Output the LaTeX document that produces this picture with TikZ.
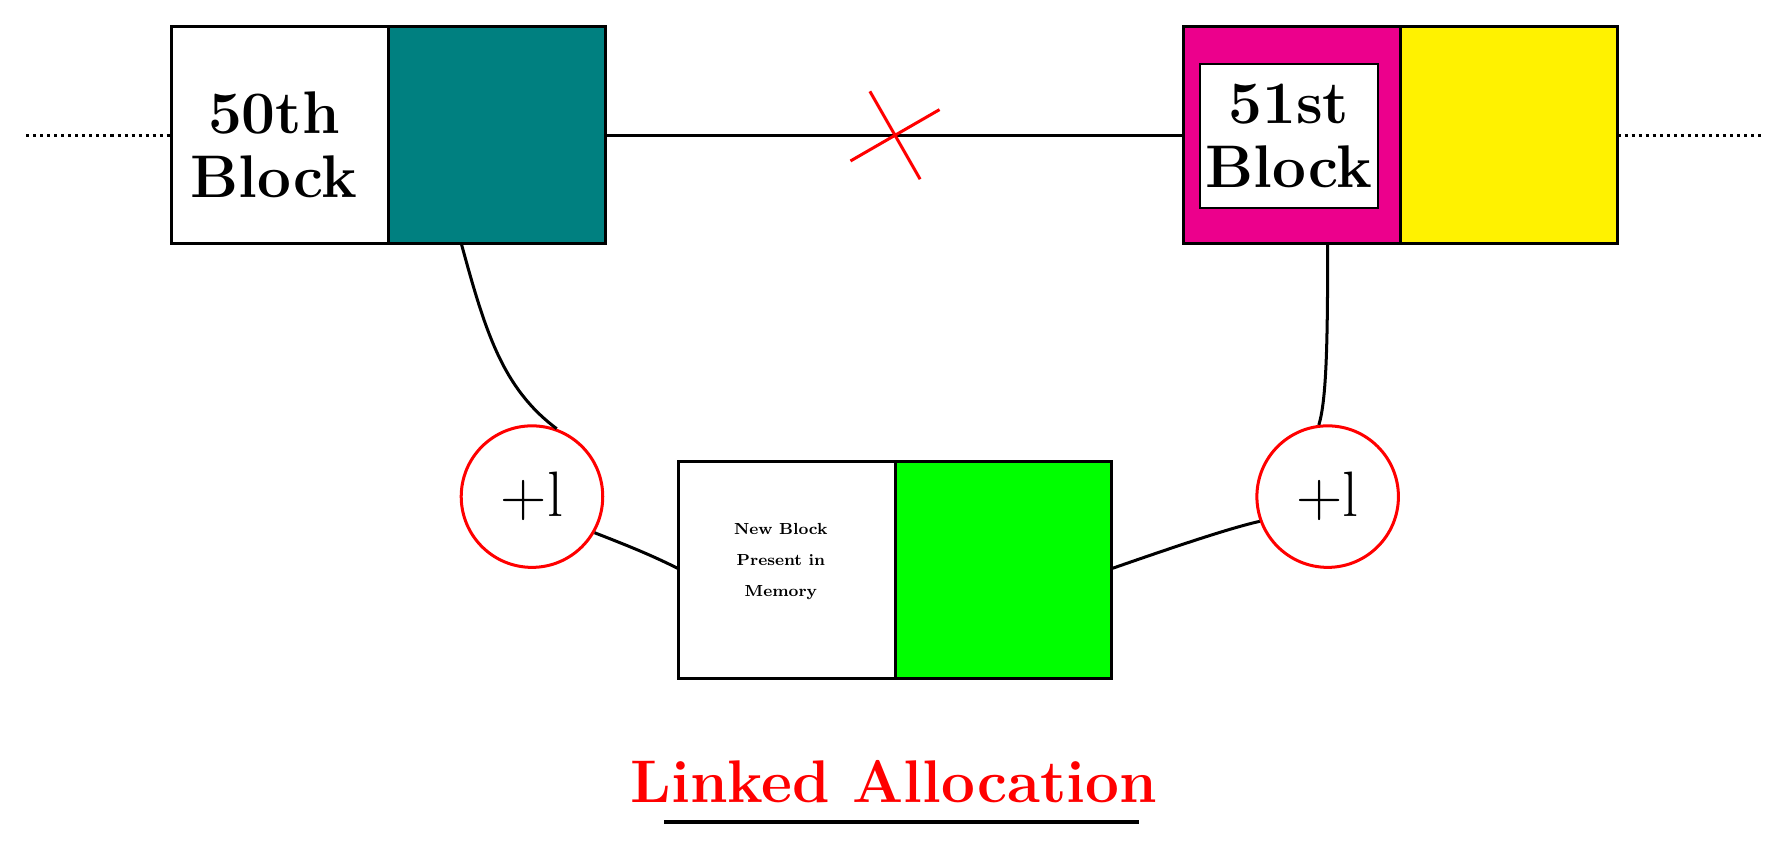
\documentclass[tikz,border=0pt]{standalone}
\begin{document}
\begin{tikzpicture}[x=0.02cm,y=-0.02cm,
  box/.style={draw=black,line width=1.5pt},
  conn/.style={line width=1.5pt},
  bigt/.style={font=\fontsize{30}{36}\selectfont\bfseries,align=center},
  circ/.style={circle,draw=red,line width=1.5pt,minimum size=2.48cm,inner sep=0pt,font=\fontsize{32}{36}\selectfont}]
\useasboundingbox (0,0) rectangle (1568,745);
% left block
\path[box,fill=white] (150,23) rectangle (340,213);
\path[box,fill=teal] (340,23) rectangle (530,213);
\node[bigt,text width=3.6cm] (b50) at (240,127) {50th\\[-4pt]Block};
\coordinate (b50r) at (530,119);
\coordinate (b50b) at (404,213);
\coordinate (b50l) at (150,119);
% right block
\path[box,fill=magenta] (1037,23) rectangle (1227,213);
\path[box,fill=yellow] (1227,23) rectangle (1417,213);
\path[draw=black,line width=1pt,fill=white] (1051,56) rectangle (1207,182);
\node[bigt] (b51) at (1129,119) {51st\\[-4pt]Block};
\coordinate (b51l) at (1037,119);
\coordinate (b51r) at (1417,119);
\coordinate (b51b) at (1163,213);
% middle
\path[box,fill=white] (594,404) rectangle (784,594);
\path[box,fill=green] (784,404) rectangle (974,594);
\node[font=\footnotesize\bfseries,align=center] (nb) at (684,492) {New Block\\[6pt]Present in\\[6pt]Memory};
\coordinate (nbl) at (594,498);
\coordinate (nbr) at (974,498);
% circles
\node[circ] (c1) at (466,435) {+l};
\node[circ] (c2) at (1163,435) {+l};
% dotted
\coordinate (dl) at (23,119);
\coordinate (dr) at (1545,119);
\draw[line width=1.5pt,dotted] (dl) -- (b50l);
\draw[line width=1.5pt,dotted] (b51r) -- (dr);
% connectors
\draw[conn] (b50r) -- (b51l);
\draw[red,line width=1.5pt] (762,80) -- (806,157) (745,141) -- (823,96);
\draw[conn] (b50b) .. controls (425,290) and (440,340) .. (c1.70);
\draw[conn] (b51b) .. controls (1163,300) and (1162,350) .. (c2.97);
\draw[conn] (c1.-30) .. controls (550,478) and (570,486) .. (nbl);
\draw[conn] (nbr) .. controls (1040,475) and (1080,462) .. (c2.200);
% title
\node[text=red,font=\fontsize{30}{36}\selectfont\bfseries] (t) at (783,685) {Linked Allocation};
\draw[line width=2pt] (582,720) -- (998,720);
\end{tikzpicture}
\end{document}
